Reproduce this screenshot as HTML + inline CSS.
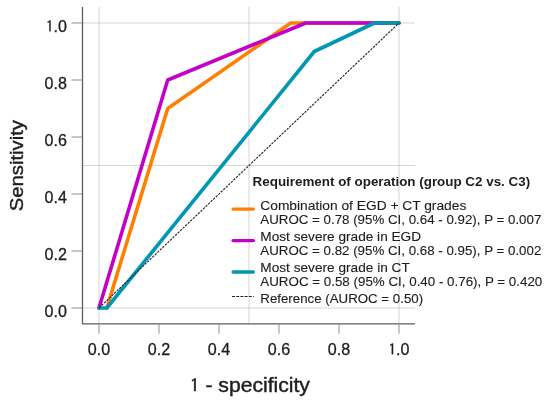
<!DOCTYPE html>
<html><head><meta charset="utf-8"><style>
html,body{margin:0;padding:0;background:#fff;}
svg{display:block;}
</style></head><body>
<svg width="550" height="400" viewBox="0 0 550 400">
<rect width="550" height="400" fill="#fff"/>
<line x1="99.0" y1="7" x2="99.0" y2="323.5" stroke="#b4b4b4" stroke-opacity="0.55" stroke-width="1"/>
<line x1="82" y1="308.0" x2="415" y2="308.0" stroke="#b4b4b4" stroke-opacity="0.55" stroke-width="1"/>
<line x1="249.0" y1="7" x2="249.0" y2="323.5" stroke="#b4b4b4" stroke-opacity="0.55" stroke-width="1"/>
<line x1="82" y1="165.5" x2="415" y2="165.5" stroke="#b4b4b4" stroke-opacity="0.55" stroke-width="1"/>
<line x1="399.0" y1="7" x2="399.0" y2="323.5" stroke="#b4b4b4" stroke-opacity="0.55" stroke-width="1"/>
<line x1="82" y1="23.0" x2="415" y2="23.0" stroke="#b4b4b4" stroke-opacity="0.55" stroke-width="1"/>
<polyline points="106.80,308.00 167.70,108.50 290.70,23.00 399.00,23.00" fill="none" stroke="#FF8000" stroke-width="3.6" stroke-linejoin="round" stroke-linecap="round"/>
<polyline points="99.00,308.00 167.70,80.00 305.70,23.00 399.00,23.00" fill="none" stroke="#C400C8" stroke-width="3.6" stroke-linejoin="round" stroke-linecap="round"/>
<polyline points="99.00,308.00 106.80,308.00 314.25,51.50 374.40,23.00 399.00,23.00" fill="none" stroke="#0096B4" stroke-width="3.6" stroke-linejoin="round" stroke-linecap="round"/>
<line x1="99.0" y1="308.0" x2="399.0" y2="23.0" stroke="#2a2a2a" stroke-width="1.15" stroke-dasharray="2.4 1.1"/>
<line x1="233.1" y1="209.1" x2="253.4" y2="209.1" stroke="#FF8000" stroke-width="3.3" stroke-linecap="round"/>
<line x1="233.1" y1="240.6" x2="253.4" y2="240.6" stroke="#C400C8" stroke-width="3.3" stroke-linecap="round"/>
<line x1="233.1" y1="272" x2="253.4" y2="272" stroke="#0096B4" stroke-width="3.3" stroke-linecap="round"/>
<line x1="232" y1="296.4" x2="253.8" y2="296.4" stroke="#222" stroke-width="1.05" stroke-dasharray="3 1.2"/>
<text transform="translate(252.60,185.90)" font-size="12.5" font-family="Liberation Sans, Arial, sans-serif" fill="#1e1e1e" stroke="#1e1e1e" stroke-width="0" textLength="277.5" lengthAdjust="spacingAndGlyphs" font-weight="bold">Requirement of operation (group C2 vs. C3)</text>
<text transform="translate(260.30,209.80)" font-size="13" font-family="Liberation Sans, Arial, sans-serif" fill="#1e1e1e" stroke="#1e1e1e" stroke-width="0.12" textLength="206" lengthAdjust="spacingAndGlyphs">Combination of EGD + CT grades</text>
<text transform="translate(260.30,223.60)" font-size="13" font-family="Liberation Sans, Arial, sans-serif" fill="#1e1e1e" stroke="#1e1e1e" stroke-width="0.12" textLength="281" lengthAdjust="spacingAndGlyphs">AUROC = 0.78 (95% CI, 0.64 - 0.92), P = 0.007</text>
<text transform="translate(260.30,240.80)" font-size="13" font-family="Liberation Sans, Arial, sans-serif" fill="#1e1e1e" stroke="#1e1e1e" stroke-width="0.12" textLength="160.8" lengthAdjust="spacingAndGlyphs">Most severe grade in EGD</text>
<text transform="translate(260.30,254.60)" font-size="13" font-family="Liberation Sans, Arial, sans-serif" fill="#1e1e1e" stroke="#1e1e1e" stroke-width="0.12" textLength="281" lengthAdjust="spacingAndGlyphs">AUROC = 0.82 (95% CI, 0.68 - 0.95), P = 0.002</text>
<text transform="translate(260.30,271.80)" font-size="13" font-family="Liberation Sans, Arial, sans-serif" fill="#1e1e1e" stroke="#1e1e1e" stroke-width="0.12" textLength="149.5" lengthAdjust="spacingAndGlyphs">Most severe grade in CT</text>
<text transform="translate(260.30,285.60)" font-size="13" font-family="Liberation Sans, Arial, sans-serif" fill="#1e1e1e" stroke="#1e1e1e" stroke-width="0.12" textLength="282" lengthAdjust="spacingAndGlyphs">AUROC = 0.58 (95% CI, 0.40 - 0.76), P = 0.420</text>
<text transform="translate(260.30,303.30)" font-size="13" font-family="Liberation Sans, Arial, sans-serif" fill="#1e1e1e" stroke="#1e1e1e" stroke-width="0.12" textLength="162.8" lengthAdjust="spacingAndGlyphs">Reference (AUROC = 0.50)</text>
<polyline points="82.5,7 82.5,323.8 415,323.8" fill="none" stroke="#5e5e5e" stroke-width="1.3" stroke-linejoin="round"/>
<line x1="71.5" y1="308.0" x2="82" y2="308.0" stroke="#999999" stroke-width="1.1"/>
<line x1="99.0" y1="324" x2="99.0" y2="333.8" stroke="#999999" stroke-width="1.1"/>
<line x1="71.5" y1="251.0" x2="82" y2="251.0" stroke="#999999" stroke-width="1.1"/>
<line x1="159.0" y1="324" x2="159.0" y2="333.8" stroke="#999999" stroke-width="1.1"/>
<line x1="71.5" y1="194.0" x2="82" y2="194.0" stroke="#999999" stroke-width="1.1"/>
<line x1="219.0" y1="324" x2="219.0" y2="333.8" stroke="#999999" stroke-width="1.1"/>
<line x1="71.5" y1="137.0" x2="82" y2="137.0" stroke="#999999" stroke-width="1.1"/>
<line x1="279.0" y1="324" x2="279.0" y2="333.8" stroke="#999999" stroke-width="1.1"/>
<line x1="71.5" y1="80.0" x2="82" y2="80.0" stroke="#999999" stroke-width="1.1"/>
<line x1="339.0" y1="324" x2="339.0" y2="333.8" stroke="#999999" stroke-width="1.1"/>
<line x1="71.5" y1="23.0" x2="82" y2="23.0" stroke="#999999" stroke-width="1.1"/>
<line x1="399.0" y1="324" x2="399.0" y2="333.8" stroke="#999999" stroke-width="1.1"/>
<text transform="translate(66.90,316.70) scale(0.97,1)" font-size="16.6" font-family="Liberation Sans, Arial, sans-serif" fill="#1e1e1e" stroke="#1e1e1e" stroke-width="0.3" text-anchor="end">0.0</text>
<text transform="translate(99.00,354.80) scale(0.97,1)" font-size="16.6" font-family="Liberation Sans, Arial, sans-serif" fill="#1e1e1e" stroke="#1e1e1e" stroke-width="0.3" text-anchor="middle">0.0</text>
<text transform="translate(66.90,259.70) scale(0.97,1)" font-size="16.6" font-family="Liberation Sans, Arial, sans-serif" fill="#1e1e1e" stroke="#1e1e1e" stroke-width="0.3" text-anchor="end">0.2</text>
<text transform="translate(159.00,354.80) scale(0.97,1)" font-size="16.6" font-family="Liberation Sans, Arial, sans-serif" fill="#1e1e1e" stroke="#1e1e1e" stroke-width="0.3" text-anchor="middle">0.2</text>
<text transform="translate(66.90,202.70) scale(0.97,1)" font-size="16.6" font-family="Liberation Sans, Arial, sans-serif" fill="#1e1e1e" stroke="#1e1e1e" stroke-width="0.3" text-anchor="end">0.4</text>
<text transform="translate(219.00,354.80) scale(0.97,1)" font-size="16.6" font-family="Liberation Sans, Arial, sans-serif" fill="#1e1e1e" stroke="#1e1e1e" stroke-width="0.3" text-anchor="middle">0.4</text>
<text transform="translate(66.90,145.70) scale(0.97,1)" font-size="16.6" font-family="Liberation Sans, Arial, sans-serif" fill="#1e1e1e" stroke="#1e1e1e" stroke-width="0.3" text-anchor="end">0.6</text>
<text transform="translate(279.00,354.80) scale(0.97,1)" font-size="16.6" font-family="Liberation Sans, Arial, sans-serif" fill="#1e1e1e" stroke="#1e1e1e" stroke-width="0.3" text-anchor="middle">0.6</text>
<text transform="translate(66.90,88.70) scale(0.97,1)" font-size="16.6" font-family="Liberation Sans, Arial, sans-serif" fill="#1e1e1e" stroke="#1e1e1e" stroke-width="0.3" text-anchor="end">0.8</text>
<text transform="translate(339.00,354.80) scale(0.97,1)" font-size="16.6" font-family="Liberation Sans, Arial, sans-serif" fill="#1e1e1e" stroke="#1e1e1e" stroke-width="0.3" text-anchor="middle">0.8</text>
<text transform="translate(66.90,31.70) scale(0.97,1)" font-size="16.6" font-family="Liberation Sans, Arial, sans-serif" fill="#1e1e1e" stroke="#1e1e1e" stroke-width="0.3" text-anchor="end"><tspan font-family="IPAGothic, Liberation Sans, sans-serif" font-size="15.44">1</tspan>.0</text>
<text transform="translate(399.00,354.80) scale(0.97,1)" font-size="16.6" font-family="Liberation Sans, Arial, sans-serif" fill="#1e1e1e" stroke="#1e1e1e" stroke-width="0.3" text-anchor="middle"><tspan font-family="IPAGothic, Liberation Sans, sans-serif" font-size="15.44">1</tspan>.0</text>
<text transform="translate(249.80,391.50) scale(1.096,1)" font-size="19.3" font-family="Liberation Sans, Arial, sans-serif" fill="#1e1e1e" stroke="#1e1e1e" stroke-width="0.4" text-anchor="middle"><tspan font-family="IPAGothic, Liberation Sans, sans-serif" font-size="17.95">1</tspan> - specificity</text>
<text transform="translate(23.30,165.60) rotate(-90) scale(1.067,1)" font-size="19" font-family="Liberation Sans, Arial, sans-serif" fill="#1e1e1e" stroke="#1e1e1e" stroke-width="0.4" text-anchor="middle">Sensitivity</text>
</svg>
</body></html>
